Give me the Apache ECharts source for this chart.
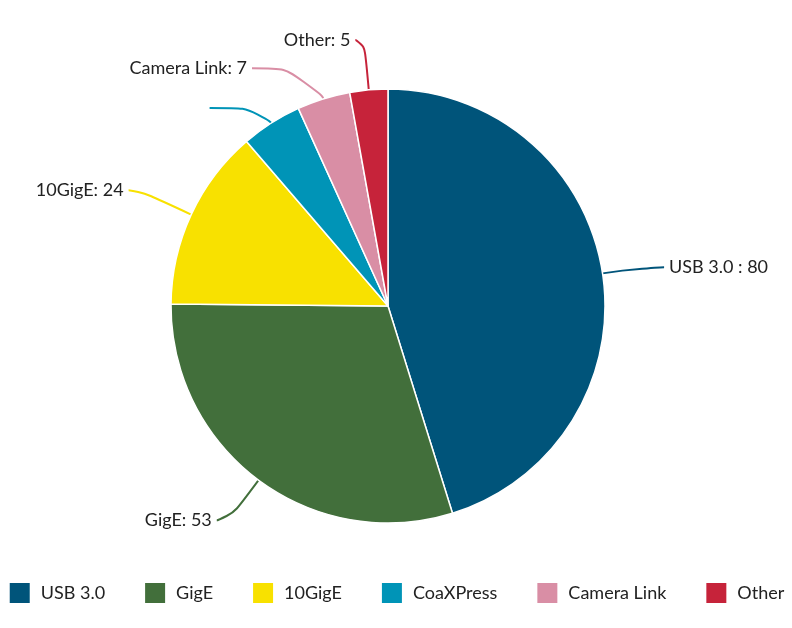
<!DOCTYPE html>
<html>
<head>
<meta charset="utf-8">
<script src="https://cdn.jsdelivr.net/npm/echarts@6/dist/echarts.min.js"></script>
<style>html,body{margin:0;padding:0;background:#fff}#c{width:792px;height:628px}</style>
</head>
<body>
<div id="c"></div>
<script>
const categories = ['USB 3.0', 'GigE', '10GigE', 'CoaXPress', 'Camera Link', 'Other'];
const values = [80, 53, 24, 8, 7, 5];
const labelTexts = ['USB 3.0 : 80', 'GigE: 53', '10GigE: 24', '', 'Camera Link: 7', 'Other: 5'];
const colors = ['#00547a', '#426f3b', '#f8e100', '#0094b7', '#d98ea5', '#c6233a'];
const lineLen = [40, 50, 58, 18, 32, 50];
const lineLen2 = [22, 12, 10, 52, 62, 9];

const chart = echarts.init(document.getElementById('c'));
chart.setOption({
  animation: false,
  color: colors,
  legend: {
    top: 576,
    left: 'center',
    icon: 'rect',
    itemWidth: 22,
    itemHeight: 22,
    itemGap: 38,
    textStyle: { fontFamily: 'Lato', fontSize: 18, color: '#222', padding: [0, 0, 0, 5] },
    data: categories
  },
  series: [{
    type: 'pie',
    center: [388, 306],
    radius: 217,
    startAngle: 90,
    clockwise: true,
    avoidLabelOverlap: false,
    itemStyle: { borderColor: '#fff', borderWidth: 1.5 },
    label: {
      show: true,
      fontFamily: 'Lato',
      fontSize: 18,
      color: '#222',
      distanceToLabelLine: 5,
      formatter: p => labelTexts[p.dataIndex]
    },
    labelLine: { show: true, smooth: 0.9, lineStyle: { width: 2 } },
    data: categories.map((c, i) => ({
      name: c,
      value: values[i],
      labelLine: { length: lineLen[i], length2: lineLen2[i] }
    }))
  }]
});
</script>
</body>
</html>
